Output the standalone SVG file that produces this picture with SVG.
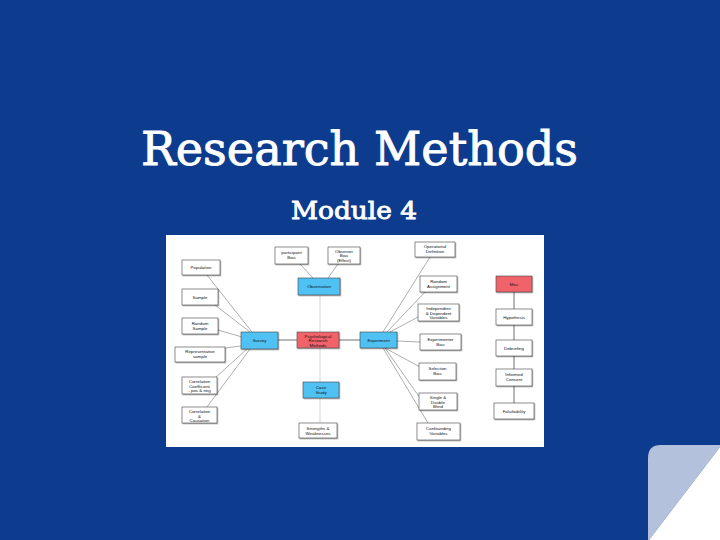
<svg xmlns="http://www.w3.org/2000/svg" width="720" height="540" viewBox="0 0 720 540">
<defs>
<filter id="sh" x="-20%" y="-20%" width="150%" height="160%">
<feDropShadow dx="0.8" dy="1" stdDeviation="0.7" flood-color="#000" flood-opacity="0.35"/>
</filter>
</defs>
<style>
.title{font-family:"DejaVu Serif","Liberation Serif",serif;fill:#fff;stroke:#fff;stroke-width:0.9;}
.n rect{fill:#fff;stroke:#444;stroke-width:0.6;filter:url(#sh);}
.n.b rect{fill:#4fc1f2;}
.n.r rect{fill:#f0646a;}
.n text{font-family:"Liberation Sans",Arial,sans-serif;font-size:4.4px;fill:#111;text-anchor:middle;}
.e line{stroke:#333;stroke-width:0.4;}
.e line.g{stroke:#bbb;stroke-width:0.6;}
.e line.k{stroke:#333;stroke-width:0.7;}
</style>
<rect width="720" height="540" fill="#0d3c8f"/>
<text class="title" x="141" y="165" font-size="47" textLength="437" lengthAdjust="spacingAndGlyphs">Research Methods</text>
<text class="title" x="291" y="219" font-size="25" stroke-width="0.5" textLength="126" lengthAdjust="spacingAndGlyphs">Module 4</text>
<g id="map">
<rect x="166" y="235" width="378" height="212" fill="#fff"/>
<g id="connectors" class="e">
<line class="g" x1="320" y1="295" x2="320" y2="423"/>
<line class="k" x1="278" y1="340" x2="297" y2="340"/>
<line class="k" x1="339" y1="340" x2="360" y2="340"/>
<line class="k" x1="514" y1="292" x2="514" y2="403"/>
<line x1="300" y1="264" x2="313" y2="278"/>
<line x1="338" y1="264" x2="328" y2="278"/>
<line x1="207" y1="275" x2="252" y2="332"/>
<line x1="215" y1="305" x2="250" y2="332"/>
<line x1="218" y1="330" x2="242" y2="337"/>
<line x1="225" y1="348" x2="241" y2="346"/>
<line x1="215" y1="378" x2="247" y2="349"/>
<line x1="207" y1="407" x2="250" y2="349"/>
<line x1="383" y1="332" x2="430" y2="257"/>
<line x1="387" y1="332" x2="425" y2="292"/>
<line x1="390" y1="332" x2="418" y2="317"/>
<line x1="397" y1="341" x2="420" y2="342"/>
<line x1="385" y1="348" x2="420" y2="367"/>
<line x1="385" y1="348" x2="420" y2="398"/>
<line x1="383" y1="348" x2="428" y2="423"/>
</g>
<g id="n-population" class="n"><rect x="182" y="260" width="38" height="15"/><text x="201" y="269">Population</text></g>
<g id="n-sample" class="n"><rect x="182" y="289" width="36" height="16"/><text x="200" y="298.5">Sample</text></g>
<g id="n-random-sample" class="n"><rect x="182" y="318" width="36" height="16"/><text x="200" y="325">Random</text><text x="200" y="330">Sample</text></g>
<g id="n-representative" class="n"><rect x="175" y="347" width="50" height="15"/><text x="200" y="353">Representative</text><text x="200" y="358">sample</text></g>
<g id="n-corr-coef" class="n"><rect x="182" y="377" width="35" height="17"/><text x="199.5" y="383">Correlation</text><text x="199.5" y="387.5">Coefficient</text><text x="199.5" y="392">- pos &amp; neg</text></g>
<g id="n-corr-caus" class="n"><rect x="182" y="407" width="35" height="16"/><text x="199.5" y="413">Correlation</text><text x="199.5" y="417.5">&amp;</text><text x="199.5" y="422">Causation</text></g>
<g id="n-participant" class="n"><rect x="275" y="247" width="33" height="17"/><text x="291.5" y="254">participant</text><text x="291.5" y="259">Bias</text></g>
<g id="n-observer" class="n"><rect x="328" y="247" width="32" height="17"/><text x="344" y="252.5">Observer</text><text x="344" y="257">Bias</text><text x="344" y="261.5">(Effect)</text></g>
<g id="n-observation" class="b n"><rect x="298" y="278" width="42" height="17"/><text x="319" y="288">Observation</text></g>
<g id="n-survey" class="b n"><rect x="241" y="332" width="37" height="17"/><text x="259.5" y="342">Survey</text></g>
<g id="n-psych" class="r n"><rect x="297" y="332" width="42" height="16"/><text x="318" y="337.5">Psychological</text><text x="318" y="342">Research</text><text x="318" y="346.5">Methods</text></g>
<g id="n-case" class="b n"><rect x="303" y="382" width="36" height="16"/><text x="321" y="389">Case</text><text x="321" y="394">Study</text></g>
<g id="n-strengths" class="n"><rect x="299" y="423" width="38" height="15"/><text x="318" y="429.5">Strengths &amp;</text><text x="318" y="434.5">Weaknesses</text></g>
<g id="n-experiment" class="b n"><rect x="360" y="332" width="37" height="16"/><text x="378.5" y="341.5">Experiment</text></g>
<g id="n-opdef" class="n"><rect x="415" y="242" width="40" height="15"/><text x="435" y="248">Operational</text><text x="435" y="253">Definition</text></g>
<g id="n-randassign" class="n"><rect x="420" y="276" width="37" height="16"/><text x="438.5" y="282.5">Random</text><text x="438.5" y="287.5">Assignment</text></g>
<g id="n-indep" class="n"><rect x="418" y="304" width="41" height="17"/><text x="438.5" y="310">Independent</text><text x="438.5" y="314.5">&amp; Dependent</text><text x="438.5" y="319">Variables</text></g>
<g id="n-expbias" class="n"><rect x="420" y="334" width="41" height="16"/><text x="440.5" y="340.5">Experimenter</text><text x="440.5" y="345.5">Bias</text></g>
<g id="n-selbias" class="n"><rect x="419" y="363" width="37" height="17"/><text x="437.5" y="370">Selection</text><text x="437.5" y="375">Bias</text></g>
<g id="n-blind" class="n"><rect x="419" y="393" width="38" height="17"/><text x="438" y="399">Single &amp;</text><text x="438" y="403.5">Double</text><text x="438" y="408">Blind</text></g>
<g id="n-confound" class="n"><rect x="417" y="423" width="43" height="17"/><text x="438.5" y="430">Confounding</text><text x="438.5" y="435">Variables</text></g>
<g id="n-misc" class="r n"><rect x="496" y="276" width="36" height="16"/><text x="514" y="285.5">Misc</text></g>
<g id="n-hypothesis" class="n"><rect x="496" y="309" width="36" height="16"/><text x="514" y="318.5">Hypothesis</text></g>
<g id="n-debriefing" class="n"><rect x="496" y="340" width="36" height="16"/><text x="514" y="349.5">Debriefing</text></g>
<g id="n-consent" class="n"><rect x="496" y="369" width="36" height="17"/><text x="514" y="376">Informed</text><text x="514" y="381">Consent</text></g>
<g id="n-falsifiability" class="n"><rect x="494" y="403" width="40" height="16"/><text x="514" y="412.5">Falsifiability</text></g>
</g>
<path d="M648,458 Q648,445 661,445 L720,445 L720,447 L649,540 L648,540 Z" fill="#b3c1dc"/>
<path d="M720,447 L720,540 L649,540 Z" fill="#fff"/>
</svg>
